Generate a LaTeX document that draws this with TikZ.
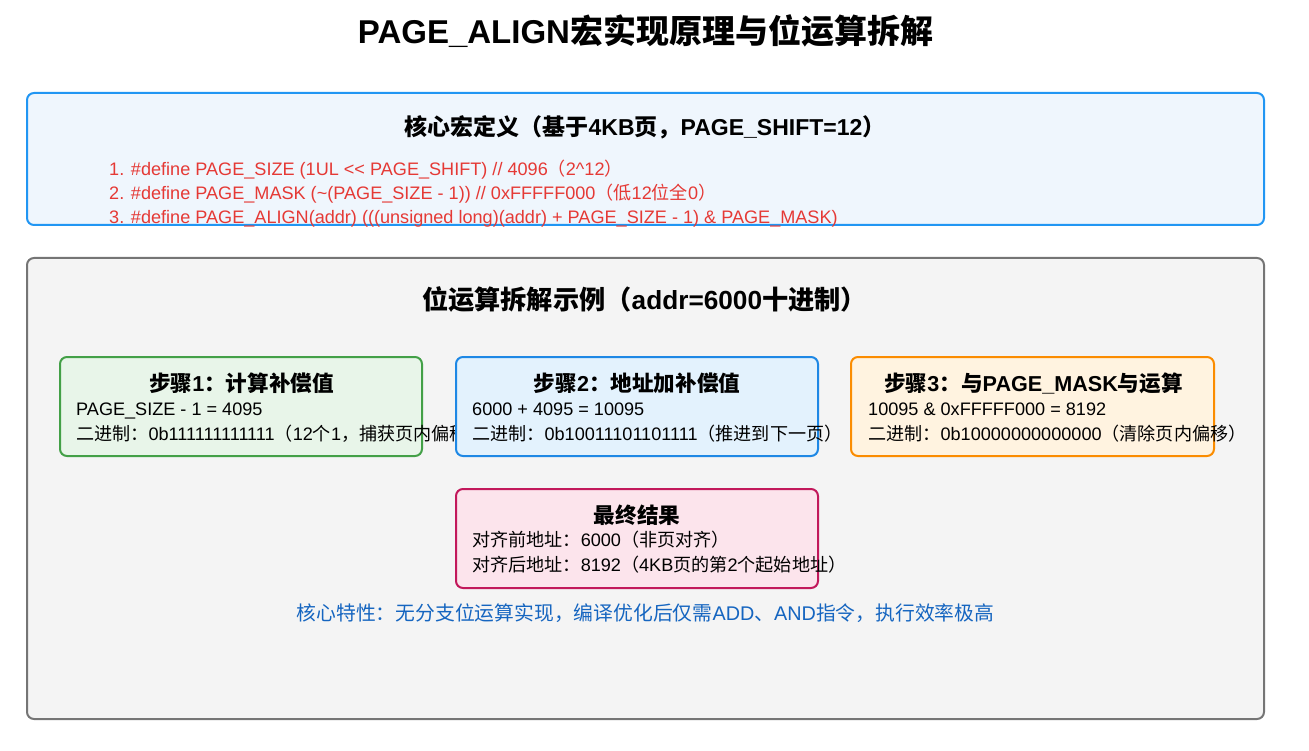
\documentclass[tikz,border=0pt]{standalone}
\usepackage{fontspec}
\setmainfont{Liberation Sans}
\newfontfamily\cjk{Noto Sans CJK SC}
\XeTeXinterchartokenstate=1
\newXeTeXintercharclass\cjkcls
\newcount\cc
\cc="20 \loop\XeTeXcharclass\cc=0 \advance\cc by 1 \ifnum\cc<"80 \repeat
\cc="3000 \loop\XeTeXcharclass\cc=\cjkcls \advance\cc by 1 \ifnum\cc<"3040 \repeat
\cc="4E00 \loop\XeTeXcharclass\cc=\cjkcls \advance\cc by 1 \ifnum\cc<"A000 \repeat
\cc="FF00 \loop\XeTeXcharclass\cc=\cjkcls \advance\cc by 1 \ifnum\cc<"FFF0 \repeat
\XeTeXinterchartoks 0 \cjkcls = {\cjk}
\XeTeXinterchartoks 4095 \cjkcls = {\cjk}
\XeTeXinterchartoks \cjkcls 0 = {\rmfamily}
\XeTeXinterchartoks \cjkcls 4095 = {\rmfamily}
\definecolor{bluefill}{HTML}{EFF6FD}
\definecolor{bluestroke}{HTML}{2196F3}
\definecolor{redtxt}{HTML}{E53935}
\definecolor{grayfill}{HTML}{F4F4F4}
\definecolor{graystroke}{HTML}{757575}
\definecolor{gfill}{HTML}{E8F5E9}
\definecolor{gstroke}{HTML}{43A047}
\definecolor{bfill}{HTML}{E3F2FD}
\definecolor{bstroke}{HTML}{1E88E5}
\definecolor{ofill}{HTML}{FFF3E0}
\definecolor{ostroke}{HTML}{FB8C00}
\definecolor{pfill}{HTML}{FCE4EC}
\definecolor{pstroke}{HTML}{C2185B}
\definecolor{foottxt}{HTML}{1565C0}
\begin{document}
\begin{tikzpicture}[x=1pt,y=-1pt,
  panel/.style={draw, line width=2pt, rounded corners=7pt, inner sep=0pt},
  bigpanel/.style={panel, minimum width=1237pt},
  stepbox/.style={panel, minimum width=362pt, minimum height=99pt},
  txt/.style={inner sep=0pt, anchor=base west, font=\fontsize{18.1}{20}\selectfont},
  redline/.style={txt, text=redtxt},
  steptitle/.style={inner sep=0pt, anchor=base, font=\fontsize{21.6}{24}\selectfont\bfseries}]
\useasboundingbox (0,0) rectangle (1309,751);
\node[inner sep=0pt, anchor=base, font=\fontsize{33}{36}\selectfont\bfseries] (title) at (645.5,44) {PAGE\_ALIGN宏实现原理与位运算拆解};
% core box
\node[bigpanel, minimum height=132pt, fill=bluefill, draw=bluestroke] (core) at (645.5,159) {};
\node[inner sep=0pt, anchor=base, font=\fontsize{23}{25}\selectfont\bfseries] (coretitle) at (645,136) {核心宏定义（基于4KB页，PAGE\_SHIFT=12）};
\node[redline] (l1) at (109,176) {1. \#define PAGE\_SIZE (1UL <\kern0pt< PAGE\_SHIFT) // 4096（2\textasciicircum 12）};
\node[redline] (l2) at (109,200) {2. \#define PAGE\_MASK (\textasciitilde(PAGE\_SIZE - 1)) // 0xFFFFF000（低12位全0）};
\node[redline] (l3) at (109,224) {3. \#define PAGE\_ALIGN(addr) (((unsigned long)(addr) + PAGE\_SIZE - 1) \& PAGE\_MASK)};
% example box
\node[bigpanel, minimum height=461pt, fill=grayfill, draw=graystroke] (example) at (645.5,488.5) {};
\node[inner sep=0pt, anchor=base, font=\fontsize{26.2}{28}\selectfont\bfseries] (extitle) at (644.5,309) {位运算拆解示例（addr=6000十进制）};
% step 1
\node[stepbox, fill=gfill, draw=gstroke] (s1) at (241,406.5) {};
\node[steptitle] (s1t) at (241.5,391) {步骤1：计算补偿值};
\node[txt] (s1a) at (76,415) {PAGE\_SIZE - 1 = 4095};
\node[txt] (s1b) at (76,440) {二进制：0b111111111111（12个1，捕获页内偏移）};
% step 2
\node[stepbox, fill=bfill, draw=bstroke] (s2) at (637,406.5) {};
\node[steptitle] (s2t) at (637,391) {步骤2：地址加补偿值};
\node[txt] (s2a) at (472,415) {6000 + 4095 = 10095};
\node[txt] (s2b) at (472,440) {二进制：0b10011101101111（推进到下一页）};
% step 3
\node[stepbox, minimum width=363pt, fill=ofill, draw=ostroke] (s3) at (1032.5,406.5) {};
\node[steptitle] (s3t) at (1033.5,391) {步骤3：与PAGE\_MASK与运算};
\node[txt] (s3a) at (868,415) {10095 \& 0xFFFFF000 = 8192};
\node[txt] (s3b) at (868,440) {二进制：0b10000000000000（清除页内偏移）};
% final
\node[stepbox, fill=pfill, draw=pstroke] (fin) at (637,538.5) {};
\node[steptitle] (fint) at (637,523) {最终结果};
\node[txt] (fina) at (472,546) {对齐前地址：6000（非页对齐）};
\node[txt] (finb) at (472,571) {对齐后地址：8192（4KB页的第2个起始地址）};
% footer
\node[inner sep=0pt, anchor=base, text=foottxt, font=\fontsize{19.8}{22}\selectfont] (foot) at (645.5,620) {核心特性：无分支位运算实现，编译优化后仅需ADD、AND指令，执行效率极高};
\end{tikzpicture}
\end{document}
